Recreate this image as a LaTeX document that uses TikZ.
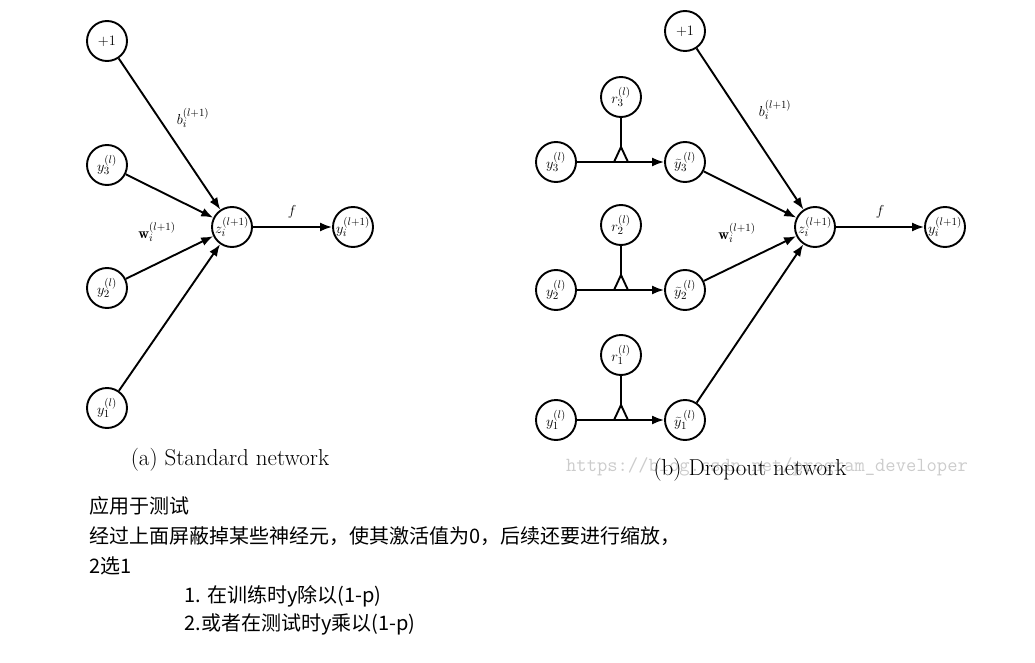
\documentclass[tikz,border=0pt]{standalone}
\usepackage{fontspec}
\newfontfamily\cjk{Noto Sans CJK SC}
\usetikzlibrary{arrows.meta}
\begin{document}
\begin{tikzpicture}[x=1pt,y=-1pt,
  neu/.style={circle,draw,line width=1.9pt,minimum size=40pt,inner sep=0pt,font=\fontsize{15}{16}\selectfont},
  con/.style={line width=1.9pt,-{Latex[length=12pt,width=9pt]}},
  lab/.style={font=\fontsize{15}{16}\selectfont},
  zh/.style={anchor=west,font=\cjk\fontsize{20}{22}\selectfont}]
\useasboundingbox (0,0) rectangle (1035,663);
% left
\node[neu] (p1) at (107,41) {$+1$};
\node[neu] (a3) at (107,165) {$y_3^{(l)}$};
\node[neu] (a2) at (107,288) {$y_2^{(l)}$};
\node[neu] (a1) at (107,408) {$y_1^{(l)}$};
\node[neu] (az) at (232,227) {$z_i^{(l+1)}$};
\node[neu] (ao) at (353,227) {$y_i^{(l+1)}$};
\foreach \s in {p1,a3,a2,a1} \draw[con] (\s) -- (az);
\draw[con] (az) -- (ao);
\node[lab] (ab) at (193,118) {$b_i^{(l+1)}$};
\node[lab] (aw) at (157,232) {$\mathbf{w}_i^{(l+1)}$};
\node[lab] (af) at (292,212) {$f$};
\node[font=\fontsize{23}{26}\selectfont] (ca) at (230,460) {(a) Standard network};
% right
\node[neu] (q1) at (685,31) {$+1$};
\node[neu] (bz) at (815,227) {$z_i^{(l+1)}$};
\node[neu] (bo) at (945,227) {$y_i^{(l+1)}$};
\foreach \i/\yy in {3/162,2/290,1/420}{
  \node[neu] (r\i) at (621,\yy-65) {$r_\i^{(l)}$};
  \node[neu] (y\i) at (556,\yy) {$y_\i^{(l)}$};
  \node[neu] (t\i) at (685,\yy) {$\widetilde{y}_\i^{\,(l)}$};
  \coordinate (g\i) at (621,\yy);
  \draw[con] (y\i) -- (t\i);
  \draw[line width=1.9pt] (r\i) -- (621,\yy-15);
  \draw[line width=1.9pt,fill=white] (621,\yy-15) -- (628,\yy) -- (614,\yy) -- cycle;
  \draw[con] (t\i) -- (bz);
}
\draw[con] (q1) -- (bz);
\draw[con] (bz) -- (bo);
\node[lab] (bb) at (775,110) {$b_i^{(l+1)}$};
\node[lab] (bw) at (737,233) {$\mathbf{w}_i^{(l+1)}$};
\node[lab] (bf) at (880,212) {$f$};
\node[font=\ttfamily\fontsize{20}{22}\selectfont,text=black!20] (wm) at (767,467) {https://blog.csdn.net/program\_developer};
\node[font=\fontsize{23}{26}\selectfont] (cb) at (750,470) {(b) Dropout network};
% text
\node[zh] (t1) at (86,506) {应用于测试};
\node[zh] (t2) at (86,536) {经过上面屏蔽掉某些神经元，使其激活值为0，后续还要进行缩放，};
\node[zh] (t3) at (86,566) {2选1};
\node[zh] (t4) at (181,596) {1. 在训练时y除以(1-p)};
\node[zh] (t5) at (181,624) {2.或者在测试时y乘以(1-p)};
\end{tikzpicture}
\end{document}
